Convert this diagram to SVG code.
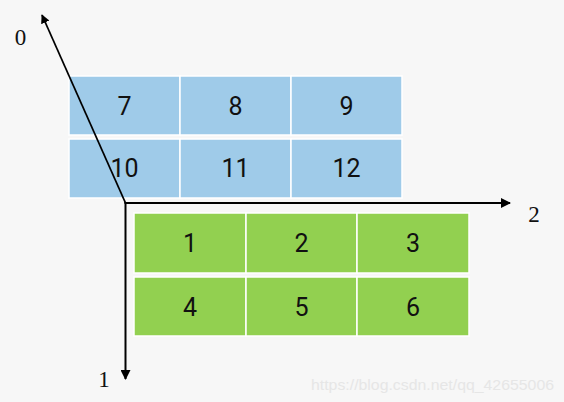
<svg xmlns="http://www.w3.org/2000/svg" width="564" height="402" viewBox="0 0 564 402">
<style>
.bg{fill:#f7f7f7}
.blue{fill:#9fcbe9;stroke:#ffffff;stroke-width:1.5}
.green{fill:#92d050;stroke:#ffffff;stroke-width:1.5}
.num{font-family:Roboto,"Noto Sans",sans-serif;font-weight:400;font-size:25px;fill:#111;text-anchor:middle}
.ax{font-family:"Liberation Serif","DejaVu Serif",serif;font-size:23px;fill:#111;text-anchor:middle}
.axis{stroke:#000;stroke-width:2;fill:none;marker-end:url(#arr)}
.wm{font-family:"Liberation Sans",Arial,sans-serif;font-size:15px;fill:#e6e6e6}
</style>
<defs>
<marker id="arr" viewBox="0 0 10 10" refX="9" refY="5" markerWidth="5" markerHeight="5" orient="auto" markerUnits="strokeWidth">
<path d="M0,0 L10,5 L0,10 z" fill="#000"/>
</marker>
</defs>
<rect class="bg" x="0" y="0" width="564" height="402"/>
<g id="cell7"><rect class="blue" x="69" y="76" width="111" height="59"/><text class="num" x="124.5" y="114.5">7</text></g>
<g id="cell8"><rect class="blue" x="180" y="76" width="111" height="59"/><text class="num" x="235.5" y="114.5">8</text></g>
<g id="cell9"><rect class="blue" x="291" y="76" width="111" height="59"/><text class="num" x="346.5" y="114.5">9</text></g>
<g id="cell10"><rect class="blue" x="69" y="139" width="111" height="59"/><text class="num" x="124.5" y="177">10</text></g>
<g id="cell11"><rect class="blue" x="180" y="139" width="111" height="59"/><text class="num" x="235.5" y="177">11</text></g>
<g id="cell12"><rect class="blue" x="291" y="139" width="111" height="59"/><text class="num" x="346.5" y="177">12</text></g>
<g id="connectors">
<line class="axis" x1="125.5" y1="203" x2="42" y2="15" style="stroke-width:1.8"/>
<line class="axis" x1="124.5" y1="203" x2="510" y2="203"/>
<line class="axis" x1="125.5" y1="202" x2="125.5" y2="379"/>
</g>
<g id="cell1"><rect class="green" x="134" y="213" width="112" height="60"/><text class="num" x="190" y="252">1</text></g>
<g id="cell2"><rect class="green" x="246" y="213" width="111" height="60"/><text class="num" x="301.5" y="252">2</text></g>
<g id="cell3"><rect class="green" x="357" y="213" width="112" height="60"/><text class="num" x="413" y="252">3</text></g>
<g id="cell4"><rect class="green" x="134" y="277" width="112" height="59"/><text class="num" x="190" y="315.5">4</text></g>
<g id="cell5"><rect class="green" x="246" y="277" width="111" height="59"/><text class="num" x="301.5" y="315.5">5</text></g>
<g id="cell6"><rect class="green" x="357" y="277" width="112" height="59"/><text class="num" x="413" y="315.5">6</text></g>
<g id="label0"><text class="ax" x="20.5" y="45">0</text></g>
<g id="label1"><text class="ax" x="104" y="387">1</text></g>
<g id="label2"><text class="ax" x="534" y="222">2</text></g>
<text class="wm" x="311" y="390" textLength="243" lengthAdjust="spacingAndGlyphs">https://blog.csdn.net/qq_42655006</text>
</svg>
